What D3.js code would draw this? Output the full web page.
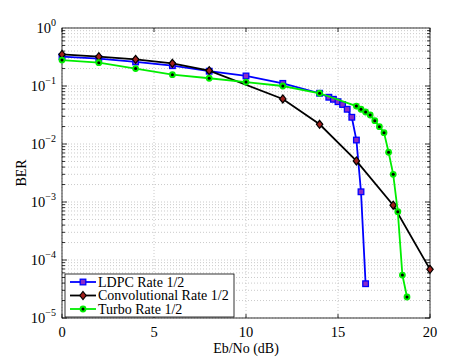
<!DOCTYPE html>
<html>
<head>
<meta charset="utf-8">
<script src="https://cdn.jsdelivr.net/npm/d3@7/dist/d3.min.js"></script>
<style>
  html, body { margin: 0; padding: 0; background: #fff; }
  svg text { font-family: "Liberation Serif", "DejaVu Serif", serif; fill: #000; }
</style>
</head>
<body>
<svg id="chart" width="474" height="363"></svg>
<script>
// BER vs Eb/No for three rate-1/2 codes

const ldpcX = [0, 2, 4, 6, 8, 10, 12, 14, 14.5, 14.75, 15, 15.25, 15.5, 15.75, 16, 16.25, 16.5];
const ldpcBER = [0.32, 0.296, 0.26, 0.224, 0.18, 0.149, 0.111, 0.075, 0.064, 0.059, 0.0536, 0.048, 0.0397, 0.0289, 0.0117, 0.0015, 3.9e-5];

const convX = [0, 2, 4, 6, 8, 12, 14, 16, 18, 20];
const convBER = [0.35, 0.32, 0.288, 0.246, 0.184, 0.0597, 0.0219, 0.0051, 0.00088, 6.9e-5];

const turboX = [0, 2, 4, 6, 8, 10, 12, 14, 16, 16.25, 16.5, 16.75, 17, 17.25, 17.5, 17.75, 18, 18.25, 18.5, 18.75];
const turboBER = [0.28, 0.252, 0.20, 0.157, 0.136, 0.117, 0.10, 0.075, 0.045, 0.0397, 0.0356, 0.0316, 0.0252, 0.0199, 0.0157, 0.0072, 0.003, 0.00068, 5.5e-5, 2.3e-5];

const xTicks = [0, 5, 10, 15, 20];
const yDecades = [0, -1, -2, -3, -4, -5];
const legendLabels = ["LDPC Rate 1/2", "Convolutional Rate 1/2", "Turbo Rate 1/2"];

const W = 474, H = 363;
const L = 62, R = 430, T = 28, B = 318;

const svg = d3.select("#chart");
const x = d3.scaleLinear().domain([0, 20]).range([L, R]);
const y = d3.scaleLog().domain([1e-5, 1]).range([B, T]);

// grid
const minorVals = [];
yDecades.forEach((e) => {
  if (e === 0) return;
  for (let k = 1; k <= 9; k++) minorVals.push(k * Math.pow(10, e));
});
const grid = svg.append("g");
grid.selectAll("line.hg").data(minorVals.concat([1])).enter().append("line")
  .attr("x1", L).attr("x2", R)
  .attr("y1", (d) => y(d)).attr("y2", (d) => y(d))
  .attr("stroke", "#bdbdbd").attr("stroke-width", 0.8)
  .attr("stroke-dasharray", "1,2");
grid.selectAll("line.vg").data(xTicks).enter().append("line")
  .attr("x1", (d) => x(d)).attr("x2", (d) => x(d))
  .attr("y1", T).attr("y2", B)
  .attr("stroke", "#bdbdbd").attr("stroke-width", 0.8)
  .attr("stroke-dasharray", "1,2");

// axes box + ticks (inward, both sides)
const ax = svg.append("g");
ax.append("rect").attr("x", L).attr("y", T).attr("width", R - L).attr("height", B - T)
  .attr("fill", "none").attr("stroke", "#000").attr("stroke-width", 0.8);

xTicks.forEach((t) => {
  ax.append("line").attr("x1", x(t)).attr("x2", x(t)).attr("y1", B).attr("y2", B - 4)
    .attr("stroke", "#000").attr("stroke-width", 0.8);
  ax.append("line").attr("x1", x(t)).attr("x2", x(t)).attr("y1", T).attr("y2", T + 4)
    .attr("stroke", "#000").attr("stroke-width", 0.8);
  ax.append("text").attr("x", x(t)).attr("y", B + 19).attr("text-anchor", "middle")
    .style("font-size", "14.5px").text(t);
});

minorVals.forEach((v) => {
  const major = Math.abs(Math.log10(v) - Math.round(Math.log10(v))) < 1e-9;
  const len = major ? 5 : 3;
  ax.append("line").attr("x1", L).attr("x2", L + len).attr("y1", y(v)).attr("y2", y(v))
    .attr("stroke", "#000").attr("stroke-width", 0.8);
  ax.append("line").attr("x1", R).attr("x2", R - len).attr("y1", y(v)).attr("y2", y(v))
    .attr("stroke", "#000").attr("stroke-width", 0.8);
});

yDecades.forEach((e) => {
  const t = ax.append("text").attr("x", L - 6).attr("y", y(Math.pow(10, e)) + 5)
    .attr("text-anchor", "end").style("font-size", "14.5px");
  t.append("tspan").text("10");
  t.append("tspan").attr("dy", -7).style("font-size", "10px").text(e === 0 ? "0" : "\u2212" + (-e));
});

ax.append("text").attr("x", (L + R) / 2).attr("y", 353).attr("text-anchor", "middle")
  .style("font-size", "14px").text("Eb/No (dB)");
ax.append("text").attr("transform", `translate(26,${(T + B) / 2}) rotate(-90)`)
  .attr("text-anchor", "middle").style("font-size", "14px").text("BER");

// series
const series = [
  { xs: ldpcX, ys: ldpcBER, color: "#0000ff", marker: "square" },
  { xs: convX, ys: convBER, color: "#000000", marker: "diamond" },
  { xs: turboX, ys: turboBER, color: "#00ee00", marker: "dot" },
];

const line = d3.line().x((d) => x(d[0])).y((d) => y(d[1]));

function drawMarker(g, s, cx, cy) {
  if (s.marker === "square") {
    g.append("rect").attr("x", cx - 2.8).attr("y", cy - 2.8).attr("width", 5.6).attr("height", 5.6)
      .attr("fill", "#8a2bc8").attr("stroke", "#0000ff").attr("stroke-width", 1.3);
  } else if (s.marker === "diamond") {
    g.append("path").attr("d", `M${cx},${cy - 4}L${cx + 3.2},${cy}L${cx},${cy + 4}L${cx - 3.2},${cy}Z`)
      .attr("fill", "#a0201c").attr("stroke", "#000").attr("stroke-width", 1.2);
  } else {
    g.append("circle").attr("cx", cx).attr("cy", cy).attr("r", 3.4).attr("fill", "#00ee00");
    g.append("circle").attr("cx", cx).attr("cy", cy).attr("r", 1.5).attr("fill", "#000");
  }
}

series.forEach((s) => {
  const pts = s.xs.map((v, i) => [v, s.ys[i]]);
  svg.append("path").datum(pts).attr("d", line)
    .attr("fill", "none").attr("stroke", s.color).attr("stroke-width", 1.8);
  const mg = svg.append("g");
  pts.forEach((p) => drawMarker(mg, s, x(p[0]), y(p[1])));
});

// legend
const lg = svg.append("g");
lg.append("rect").attr("x", 65).attr("y", 274).attr("width", 169).attr("height", 43)
  .attr("fill", "#fff").attr("stroke", "#000").attr("stroke-width", 0.8);
series.forEach((s, i) => {
  const ly = 282 + i * 13.5;
  lg.append("line").attr("x1", 70).attr("x2", 96).attr("y1", ly).attr("y2", ly)
    .attr("stroke", s.color).attr("stroke-width", 1.8);
  drawMarker(lg, s, 83, ly);
  lg.append("text").attr("x", 98).attr("y", ly + 4.5).style("font-size", "14px").text(legendLabels[i]);
});
</script>
</body>
</html>
